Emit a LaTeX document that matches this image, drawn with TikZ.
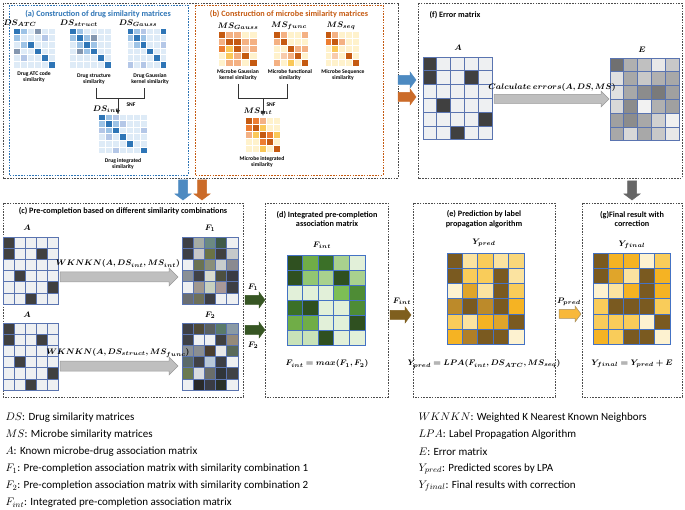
\documentclass[tikz,border=0pt]{standalone}
\usepackage{fontspec}
\usepackage{amsmath,bm}
\setmainfont{Carlito}
\begin{document}
\newcommand\mymat[7]{\foreach \c [count=\i from 0] in {#7}{%
 \pgfmathtruncatemacro\rr{\i/#5}\pgfmathtruncatemacro\qq{mod(\i,#5)}%
 \definecolor{tmpc}{HTML}{\c}%
 \filldraw[fill=tmpc,draw=#6,line width=0.8pt] ({#1+\qq*#3},{#2+\rr*#4}) rectangle ++(#3,#4);}}
\newcommand\rarr[8]{\filldraw[fill=#7,draw=#8,line width=0.5pt] ({#1},{#3-#4}) -- ({#2-#6},{#3-#4}) -- ({#2-#6},{#3-#5}) -- ({#2},{#3}) -- ({#2-#6},{#3+#5}) -- ({#2-#6},{#3+#4}) -- ({#1},{#3+#4}) -- cycle;}
\newcommand\darr[8]{\filldraw[fill=#7,draw=#8,line width=0.5pt] ({#3-#4},{#1}) -- ({#3-#4},{#2-#6}) -- ({#3-#5},{#2-#6}) -- ({#3},{#2}) -- ({#3+#5},{#2-#6}) -- ({#3+#4},{#2-#6}) -- ({#3+#4},{#1}) -- cycle;}
\definecolor{blueT}{HTML}{2E75B6}
\definecolor{orT}{HTML}{C55A11}
\definecolor{matB}{HTML}{5A74B0}
\definecolor{matC}{HTML}{4472C4}
\begin{tikzpicture}[x=1pt,y=-1pt,
 box/.style={draw=black!70,dash pattern=on 1.6pt off 1.2pt,line width=0.6pt},
 ttl/.style={font=\fontsize{8.2}{9.5}\selectfont\bfseries,align=center},
 sm/.style={font=\fontsize{5.6}{6.6}\selectfont\bfseries,align=center},
 ml/.style={font=\fontsize{8}{9}\selectfont},
 leg/.style={font=\fontsize{11}{12}\selectfont,anchor=west},
 ln/.style={line width=0.7pt,black!80}]
\useasboundingbox (0,0) rectangle (685,510);
% ---- top left outer box
\draw[box] (3,3) rectangle (398,178);
\draw[box,draw=blueT] (9,5) rectangle (188,175);
\draw[box,draw=orT] (195,5) rectangle (383,175);
\node[ttl,text=blueT] (ta) at (98,14) {(a) Construction of drug similarity matrices};
\node[ttl,text=orT] (tb) at (289,14) {(b) Construction of microbe similarity matrices};
% drug matrices
\def\bD{2E75B6}\def\bM{9DC3E6}\def\bL{DEEBF7}\def\bG{8497B0}\def\bP{B4C7E7}
\mymat{13}{28}{7}{6.7}{6}{white}{\bD,\bM,\bL,\bG,\bL,\bL, \bM,\bL,\bL,\bL,\bP,\bL, \bL,\bM,\bD,\bL,\bL,\bL, \bG,\bL,\bL,\bD,\bL,\bL, \bL,\bP,\bL,\bL,\bD,\bL, \bL,\bL,\bL,\bL,\bL,\bD}
\mymat{69}{28}{7}{6.7}{6}{white}{\bD,\bM,\bL,\bL,\bL,\bL, \bM,\bD,\bM,\bG,\bL,\bL, \bL,\bM,\bD,\bM,\bL,\bL, \bL,\bG,\bM,\bD,\bL,\bL, \bL,\bL,\bL,\bL,\bD,\bL, \bL,\bL,\bL,\bL,\bL,\bD}
\mymat{127}{28}{6.6}{6.7}{6}{white}{\bD,\bM,\bP,\bL,\bL,\bD, \bM,\bD,\bM,\bL,\bL,\bL, \bL,\bM,\bD,\bL,\bL,\bP, \bL,\bL,\bL,\bD,\bL,\bL, \bL,\bL,\bL,\bL,\bD,\bL, \bP,\bL,\bP,\bL,\bL,\bD}
\node[ml] (l1) at (20,23) {$\bm{DS_{ATC}}$};
\node[ml] (l2) at (79,23) {$\bm{DS_{struct}}$};
\node[ml] (l3) at (138,23) {$\bm{DS_{Gauss}}$};
\node[sm] (n1) at (34,77) {Drug ATC code\\similarity};
\node[sm] (n2) at (94,79) {Drug structure\\similarity};
\node[sm] (n3) at (150,79) {Drug Gaussian\\kernel similarity};
\coordinate (s1) at (96,88); \coordinate (s2) at (144,88);
\coordinate (s3) at (96,98); \coordinate (s4) at (144,98);
\coordinate (sm1) at (118,98); \coordinate (se1) at (118,115);
\draw[ln] (s1) -- (s3) -- (s4) -- (s2);
\draw[ln,-latex] (sm1) -- (se1);
\node[sm] (snf1) at (131,105) {SNF};
\node[ml] (l4) at (106,109) {$\bm{DS_{int}}$};
\mymat{98}{114}{7.1}{6.6}{7}{white}{\bD,\bM,\bP,\bL,\bL,\bL,\bL, \bM,\bD,\bM,\bP,\bL,\bL,\bL, \bP,\bM,\bD,\bL,\bL,\bL,\bP, \bL,\bP,\bL,\bD,\bL,\bL,\bL, \bL,\bL,\bL,\bL,\bD,\bL,\bL, \bL,\bL,\bP,\bL,\bL,\bL,\bD}
\node[sm] (n4) at (123,164) {Drug integrated\\similarity};
% microbe matrices
\def\oD{C55A11}\def\oM{F4B183}\def\oP{F8CBAD}\def\oY{FAC858}\def\oL{FFF2CC}\def\oE{ED7D31}
\mymat{218}{31}{7.8}{7}{5}{white}{\oD,\oM,\oM,\oL,\oL, \oM,\oD,\oD,\oM,\oM, \oE,\oY,\oD,\oP,\oM, \oL,\oY,\oM,\oD,\oL, \oL,\oM,\oM,\oL,\oD}
\mymat{273}{31}{7}{7}{5}{white}{\oD,\oM,\oL,\oL,\oM, \oM,\oD,\oL,\oL,\oL, \oL,\oL,\oD,\oM,\oM, \oL,\oP,\oM,\oD,\oL, \oM,\oL,\oY,\oL,\oD}
\mymat{325}{31}{6.8}{7}{5}{white}{\oD,\oM,\oL,\oL,\oL, \oE,\oD,\oM,\oL,\oL, \oL,\oY,\oL,\oL,\oL, \oL,\oP,\oL,\oD,\oL, \oL,\oL,\oL,\oL,\oD}
\node[ml] (m1) at (238,26) {$\bm{MS_{Gauss}}$};
\node[ml] (m2) at (289,26) {$\bm{MS_{func}}$};
\node[ml] (m3) at (341,26) {$\bm{MS_{seq}}$};
\node[sm] (p1) at (238,75) {Microbe Gaussian\\kernel similarity};
\node[sm] (p2) at (290,75) {Microbe functional\\similarity};
\node[sm] (p3) at (343,75) {Microbe Sequence\\similarity};
\coordinate (t1) at (238,84); \coordinate (t2) at (287,84);
\coordinate (t3) at (238,98); \coordinate (t4) at (287,98);
\coordinate (tm1) at (263,98); \coordinate (te1) at (263,116);
\draw[ln] (t1) -- (t3) -- (t4) -- (t2);
\draw[ln,-latex] (tm1) -- (te1);
\node[sm] (snf2) at (271,105) {SNF};
\node[ml] (m4) at (258,111) {$\bm{MS_{int}}$};
\mymat{245}{117}{7}{7}{5}{white}{\oD,\oE,\oM,\oL,\oL, \oE,\oD,\oY,\oL,\oL, \oM,\oY,\oD,\oE,\oY, \oL,\oL,\oE,\oD,\oL, \oL,\oL,\oY,\oL,\oD}
\node[sm] (p4) at (262,162) {Microbe integrated\\similarity};
% arrows into (f)
\rarr{398}{416}{80}{4.5}{8}{6}{blueT!85}{blueT!85}
\rarr{398}{416}{97}{4.5}{8}{6}{orT!90}{orT!90}
\darr{180}{200}{183}{4.5}{8}{6}{blueT!85}{blueT!85}
\darr{180}{200}{202}{4.5}{8}{6}{orT!90}{orT!90}
% ---- (f)
\draw[box] (418,3) rectangle (682,178);
\node[ttl,anchor=west] (tf) at (426,15) {(f) Error matrix};
\def\gD{404040}\def\gL{EEF0F2}
\node[ml] (fa) at (458,48) {$\bm{A}$};
\mymat{423}{57}{13.8}{13.8}{5}{matB}{\gD,\gL,\gL,\gL,\gL, \gD,\gL,\gL,\gD,\gL, \gL,\gL,\gL,\gL,\gL, \gL,\gD,\gL,\gL,\gL, \gL,\gL,\gL,\gL,\gD, \gL,\gL,\gD,\gL,\gL}
\node[ml] (fe) at (642,50) {$\bm{E}$};
\mymat{610}{58}{13.8}{13.8}{5}{matB}{707070,B0B0B0,C0C0C0,E8E8E8,C8C8C8, E0E0E0,A8A8A8,C8C8C8,B0B0B0,A8A8A8, E0E0E0,A8A8A8,8C8C8C,7A7A7A,A0A0A0, D8D8D8,8C8C8C,F2F2F2,B0B0B0,A0A0A0, A0A0A0,8C8C8C,A8A8A8,D0D0D0,F0F0F0, A8A8A8,D8D8D8,A8A8A8,C8C8C8,E8E8E8}
\rarr{494}{609}{99}{4.5}{8}{8}{black!25}{black!40}
\node[ml] (ce) at (552,88) {$\bm{Calculate\ errors(A,DS,MS)}$};
\darr{181}{200}{632}{4.5}{8}{6}{black!60}{black!60}
% ---- (c)
\draw[box] (3,203) rectangle (243,397);
\node[ttl] (tc) at (123,211) {(c) Pre-completion based on different similarity combinations};
\node[ml] (ca1) at (27,228) {$\bm{A}$};
\mymat{3}{237}{11}{11.2}{5}{matB}{\gD,\gL,\gL,\gL,\gL, \gD,\gL,\gL,\gD,\gL, \gL,\gL,\gL,\gL,\gL, \gL,\gD,\gL,\gL,\gL, \gL,\gL,\gL,\gL,\gD, \gL,\gL,\gD,\gL,\gL}
\node[ml] (cf1) at (210,228) {$\bm{F_1}$};
\mymat{182}{237}{11.2}{11.2}{5}{matB}{3D3F45,A5ACA5,6B8A82,3F5A48,EEF0F2, 3D3F45,C8C8C8,6B7345,404040,C5C8CA, EEF0F2,6B7352,8A8F7A,C8CCCC,8A8A90, 8A9096,404246,D8DCD0,4D5040,3A3C44, EEF0F2,A09890,C8D0C0,A89898,3D3F45, 6A6E72,6E705A,3D3F45,EEF0F2,EEF0F2}
\rarr{60}{178}{277}{5}{9}{9}{black!25}{black!40}
\node[ml] (w1) at (118,264) {$\bm{WKNKN(A,DS_{int},MS_{int})}$};
\node[ml] (ca2) at (27,315) {$\bm{A}$};
\mymat{3}{323}{11}{11.2}{5}{matB}{\gD,\gL,\gL,\gL,\gL, \gD,\gL,\gL,\gD,\gL, \gL,\gL,\gL,\gL,\gL, \gL,\gD,\gL,\gL,\gL, \gL,\gL,\gL,\gL,\gD, \gL,\gL,\gD,\gL,\gL}
\node[ml] (cf2) at (210,315) {$\bm{F_2}$};
\mymat{182}{323}{11.2}{11.2}{5}{matB}{3D3F45,4F4A38,5A6060,5A7A6A,8A9AA5, 3D3F45,EEF0F2,EEF0F2,404040,958A7A, 8A9096,8A8E92,4A3E30,E8E8E8,5A6A5A, 5A6A6A,404246,B8C8D8,3D3F45,EEF0F2, 6A7A50,D8DCE0,6A6E6A,30353A,404246, EEF0F2,2A2A2A,3A3C44,2A3028,EEF0F2}
\rarr{60}{178}{366}{5}{9}{9}{black!25}{black!40}
\node[ml] (w2) at (118,353) {$\bm{WKNKN(A,DS_{struct},MS_{func})}$};
% green arrows
\definecolor{gA}{HTML}{375623}
\rarr{245}{265}{300}{4.5}{8}{6}{gA}{gA}
\rarr{245}{265}{330}{4.5}{8}{6}{gA}{gA}
\node[ml] (lf1) at (253,287) {$\bm{F_1}$};
\node[ml] (lf2) at (253,345) {$\bm{F_2}$};
% ---- (d)
\draw[box] (265,203) rectangle (388,397);
\node[ttl] (td) at (327,219) {(d) Integrated pre-completion\\association matrix};
\node[ml] (dfi) at (322,245) {$\bm{F_{int}}$};
\mymat{287}{255}{15.6}{15.1}{5}{matC}{2F5020,70AD47,3B7028,A9D18E,E2F0D9, 2F5020,92C672,A9D18E,2F5020,A9D18E, E2F0D9,E2F0D9,E2F0D9,7DBE55,4E8C35, 3B7028,2F5020,E2F0D9,E2F0D9,4E8C35, 70AD47,70AD47,E2F0D9,E2F0D9,2F5020, C8E2B8,C8E2B8,2F5020,E2F0D9,E2F0D9}
\node[ml] (df) at (327,364) {$\bm{F_{int}=max(F_1,F_2)}$};
\definecolor{brA}{HTML}{7F5F1E}
\rarr{390}{411}{315}{4.5}{8}{6}{brA}{brA}
\node[ml] (lfi) at (402,301) {$\bm{F_{int}}$};
% ---- (e)
\draw[box] (413,203) rectangle (555,397);
\node[ttl] (te) at (484,219) {(e) Prediction by label\\propagation algorithm};
\node[ml] (ey) at (484,243) {$\bm{Y_{pred}}$};
\mymat{447}{253}{15.4}{15.3}{5}{matC}{7A5A20,FBE3A0,F9CC5A,FBE3A0,F9D77A, 7A5A20,F9CC5A,F9CC5A,7A5A20,FBE3A0, FDF2D0,E0A52A,FBE3A0,7A5A20,F9CC5A, BC8A2A,7A5A20,BC8A2A,7A5A20,F5B323, F9CC5A,FBE3A0,F5B323,E0A52A,7A5A20, F5B323,B07F28,7A5A20,7A5A20,FDF2D0}
\node[ml] (ef) at (484,364) {$\bm{Y_{pred}=LPA(F_{int},DS_{ATC},MS_{seq})}$};
\definecolor{ylA}{HTML}{F8B83A}
\rarr{559}{581}{314}{4.5}{8}{6}{ylA}{brA!70}
\node[ml] (lp) at (569,302) {$\bm{P_{pred}}$};
% ---- (g)
\draw[box] (582,203) rectangle (682,397);
\node[ttl] (tg) at (632,219) {(g)Final result with\\correction};
\node[ml] (gy) at (632,245) {$\bm{Y_{final}}$};
\mymat{593}{253}{15.4}{15.3}{5}{matC}{7A5A20,F5B323,F5B323,FDF2D0,F9CC5A, 7A5A20,E0A52A,FBE3A0,7A5A20,F5B323, FDF2D0,FBE3A0,F5B323,7A5A20,F5B323, F9CC5A,7A5A20,7A5A20,7A5A20,F9CC5A, F9CC5A,F9CC5A,F9CC5A,FDF2D0,7A5A20, F5B323,F9CC5A,7A5A20,7A5A20,FDF2D0}
\node[ml] (gf) at (632,364) {$\bm{Y_{final}=Y_{pred}+E}$};
% ---- legend
\node[leg] (g1) at (2,418) {$DS$: Drug similarity matrices};
\node[leg] (g2) at (2,435) {$MS$: Microbe similarity matrices};
\node[leg] (g3) at (2,452) {$A$: Known microbe-drug association matrix};
\node[leg] (g4) at (2,469) {$F_1$: Pre-completion association matrix with similarity combination 1};
\node[leg] (g5) at (2,486) {$F_2$: Pre-completion association matrix with similarity combination 2};
\node[leg] (g6) at (2,503) {$F_{int}$: Integrated pre-completion association matrix};
\node[leg] (h1) at (415,418) {$WKNKN$: Weighted K Nearest Known Neighbors};
\node[leg] (h2) at (415,435) {$LPA$: Label Propagation Algorithm};
\node[leg] (h3) at (415,452) {$E$: Error matrix};
\node[leg] (h4) at (415,469) {$Y_{pred}$: Predicted scores by LPA};
\node[leg] (h5) at (415,486) {$Y_{final}$: Final results with correction};
\end{tikzpicture}
\end{document}
